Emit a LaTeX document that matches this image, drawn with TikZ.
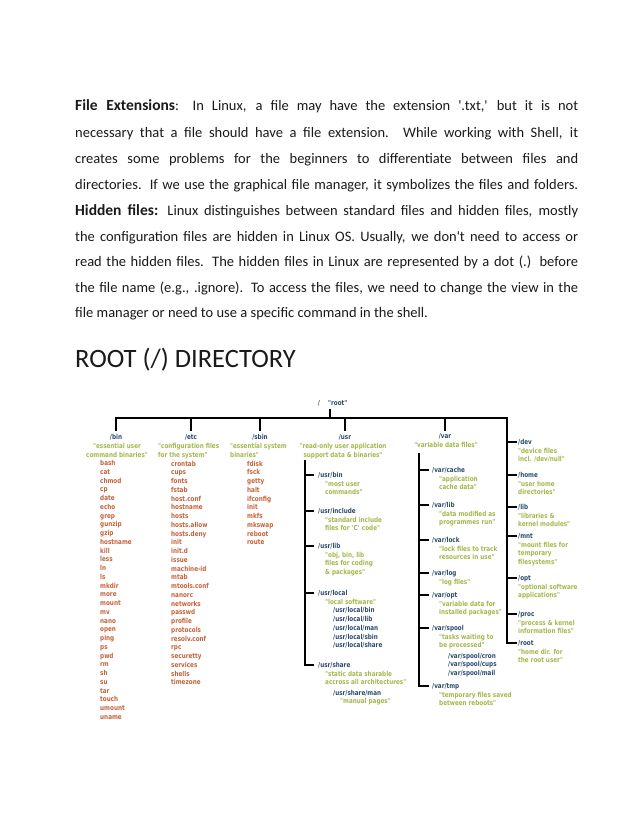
\documentclass[tikz,border=0pt]{standalone}
\usepackage{fontspec}
\setmainfont{Carlito}
\newfontfamily\treefont[FakeStretch=0.82]{DejaVu Sans}
\definecolor{dirblue}{HTML}{2D4B6E}
\definecolor{descgreen}{HTML}{A3B84C}
\definecolor{fileorange}{HTML}{C4623A}
\definecolor{bodyblack}{HTML}{1A1A1A}
\tikzset{
  tl/.style={line width=2.7pt, line join=miter, draw=black},
  body/.style={font=\fontsize{14.5}{16}\selectfont, anchor=base west, inner sep=0pt, text=bodyblack},
  tfont/.style={font=\treefont\fontsize{6.9}{8}\bfseries\selectfont, inner sep=0pt},
  dname/.style={tfont, text=dirblue},
  ddesc/.style={tfont, text=descgreen},
  dfile/.style={tfont, text=fileorange}
}
\newcommand\tlist[5]{\foreach \s [count=\k from 0] in {#5} {\node[#1, anchor=base west] (#2-\k) at (#3,{#4+2.5+\k*8.75}) {\s};}}
\newcommand\tlistc[5]{\foreach \s [count=\k from 0] in {#5} {\node[#1, anchor=base] (#2-\k) at (#3,{#4+2.5+\k*8.75}) {\s};}}
\newcommand\hd{\fontsize{15.5}{16}\selectfont\bfseries}
\begin{document}
\begin{tikzpicture}[x=1pt,y=-1pt]
\useasboundingbox[fill=white] (0,0) rectangle (638,826);
% ---------- body text ----------
\node[body] (a1) at (75,111) {\makebox[503pt][s]{{\hd File Extensions}: In Linux, a file may have the extension \textquotesingle.txt,\textquotesingle{} but it is not}};
\node[body] (a2) at (75,137.5) {\makebox[503pt][s]{necessary that a file should have a file extension. While working with Shell, it}};
\node[body] (a3) at (75,164) {\makebox[503pt][s]{creates some problems for the beginners to differentiate between files and}};
\node[body] (a4) at (75,190) {\makebox[503pt][s]{directories. If we use the graphical file manager, it symbolizes the files and folders.}};
\node[body] (b1) at (75,215.5) {\makebox[503pt][s]{{\hd Hidden files:} Linux distinguishes between standard files and hidden files, mostly}};
\node[body] (b2) at (75,241) {\makebox[503pt][s]{the configuration files are hidden in Linux OS. Usually, we don\textquotesingle t need to access or}};
\node[body] (b3) at (75,266.5) {\makebox[503pt][s]{read the hidden files. The hidden files in Linux are represented by a dot (.) before}};
\node[body] (b4) at (75,292) {\makebox[503pt][s]{the file name (e.g., .ignore). To access the files, we need to change the view in the}};
\node[body] (b5) at (75,317.5) {file manager or need to use a specific command in the shell.};
\node[body, font=\fontsize{26.5}{30}\selectfont] (title) at (75,367) {ROOT (/) DIRECTORY};
% ---------- tree lines ----------
\node[dname, anchor=base] (slash) at (319,405.5) {/};
\node[dname, anchor=base west] (rootname) at (328,405.5) {"root"};
\coordinate (r0) at (330,409);
\coordinate (r1) at (330,418);
\coordinate (bL) at (116,418);
\coordinate (bR) at (507,418);
\draw[tl] (r0) -- (r1);
\draw[tl] (116,431) -- (bL) -- (bR) -- (507,643) -- (516.5,643);
\foreach \xx in {191,260,345,445} \draw[tl] (\xx,418) -- (\xx,431);
\foreach \yy in {442,475,507,536,578,614} \draw[tl] (507,\yy) -- (516.5,\yy);
% /usr tree
\draw[tl] (305,460) -- (305,665) -- (313.5,665);
\foreach \yy in {475,511,546,593} \draw[tl] (305,\yy) -- (313.5,\yy);
% /var tree
\draw[tl] (419,453) -- (419,686) -- (428.5,686);
\foreach \yy in {470,505,540,573,595,628} \draw[tl] (419,\yy) -- (428.5,\yy);
% ---------- /bin ----------
\tlistc{dname}{bin}{116}{437}{/bin}
\tlistc{ddesc}{bind}{117}{446}{"essential user,command binaries"}
\tlist{dfile}{binf}{100}{463}{bash,cat,chmod,cp,date,echo,grep,gunzip,gzip,hostname,kill,less,ln,ls,mkdir,more,mount,mv,nano,open,ping,ps,pwd,rm,sh,su,tar,touch,umount,uname}
% ---------- /etc ----------
\tlistc{dname}{etc}{191}{437}{/etc}
\tlist{ddesc}{etcd}{158}{446}{"configuration files,for the system"}
\tlist{dfile}{etcf}{171}{463.5}{crontab,cups,fonts,fstab,host.conf,hostname,hosts,hosts.allow,hosts.deny,init,init.d,issue,machine-id,mtab,mtools.conf,nanorc,networks,passwd,profile,protocols,resolv.conf,rpc,securetty,services,shells,timezone}
% ---------- /sbin ----------
\tlistc{dname}{sbin}{260}{437}{/sbin}
\tlist{ddesc}{sbind}{230}{446}{"essential system,binaries"}
\tlist{dfile}{sbinf}{247}{463.5}{fdisk,fsck,getty,halt,ifconfig,init,mkfs,mkswap,reboot,route}
% ---------- /usr ----------
\tlistc{dname}{usr}{345}{437}{/usr}
\tlistc{ddesc}{usrd}{343}{446}{"read-only user application,support data \& binaries"}
\tlist{dname}{ub}{318}{475}{/usr/bin}
\tlist{ddesc}{ubd}{325}{483.7}{"most user,commands"}
\tlist{dname}{ui}{318}{511}{/usr/include}
\tlist{ddesc}{uid}{325}{519.7}{"standard include,files for \textquotesingle C\textquotesingle{} code"}
\tlist{dname}{ul}{318}{546}{/usr/lib}
\tlist{ddesc}{uld}{325}{554.7}{{"obj, bin, lib},files for coding,\& packages"}
\tlist{dname}{uloc}{318}{593}{/usr/local}
\tlist{ddesc}{ulocd}{325}{601.7}{"local software"}
\tlist{dname}{ulocs}{333}{610.4}{/usr/local/bin,/usr/local/lib,/usr/local/man,/usr/local/sbin,/usr/local/share}
\tlist{dname}{us}{318}{665}{/usr/share}
\tlist{ddesc}{usd}{325}{673.7}{"static data sharable,accross all architectures"}
\tlist{dname}{usm}{333}{692.5}{/usr/share/man}
\tlist{ddesc}{usmd}{340}{701.2}{"manual pages"}
% ---------- /var ----------
\tlistc{dname}{var}{445}{436}{/var}
\tlistc{ddesc}{vard}{446}{445}{"variable data files"}
\tlist{dname}{vc}{432}{470}{/var/cache}
\tlist{ddesc}{vcd}{439}{478.7}{"application,cache data"}
\tlist{dname}{vli}{432}{505}{/var/lib}
\tlist{ddesc}{vlid}{439}{513.7}{"data modified as,programmes run"}
\tlist{dname}{vlo}{432}{540}{/var/lock}
\tlist{ddesc}{vlod}{439}{548.7}{"lock files to track,resources in use"}
\tlist{dname}{vlg}{432}{573}{/var/log}
\tlist{ddesc}{vlgd}{439}{581.7}{"log files"}
\tlist{dname}{vo}{432}{595}{/var/opt}
\tlist{ddesc}{vod}{439}{603.7}{"variable data for,installed packages"}
\tlist{dname}{vs}{432}{628}{/var/spool}
\tlist{ddesc}{vsd}{439}{636.7}{"tasks waiting to,be processed"}
\tlist{dname}{vss}{448}{655.5}{/var/spool/cron,/var/spool/cups,/var/spool/mail}
\tlist{dname}{vt}{432}{686}{/var/tmp}
\tlist{ddesc}{vtd}{439}{694.7}{"temporary files saved,between reboots"}
% ---------- right column ----------
\tlist{dname}{dev}{518}{442}{/dev}
\tlist{ddesc}{devd}{518}{450.7}{"device files,incl. /dev/null"}
\tlist{dname}{home}{518}{475}{/home}
\tlist{ddesc}{homed}{518}{483.7}{"user home,directories"}
\tlist{dname}{lib}{518}{507}{/lib}
\tlist{ddesc}{libd}{518}{515.7}{"libraries \&,kernel modules"}
\tlist{dname}{mnt}{518}{536}{/mnt}
\tlist{ddesc}{mntd}{518}{544.7}{"mount files for,temporary,filesystems"}
\tlist{dname}{opt}{518}{578}{/opt}
\tlist{ddesc}{optd}{518}{586.7}{"optional software,applications"}
\tlist{dname}{proc}{518}{614}{/proc}
\tlist{ddesc}{procd}{518}{622.7}{"process \& kernel,information files"}
\tlist{dname}{root}{518}{643}{/root}
\tlist{ddesc}{rootd}{518}{651.7}{"home dir. for,the root user"}
\end{tikzpicture}
\end{document}
